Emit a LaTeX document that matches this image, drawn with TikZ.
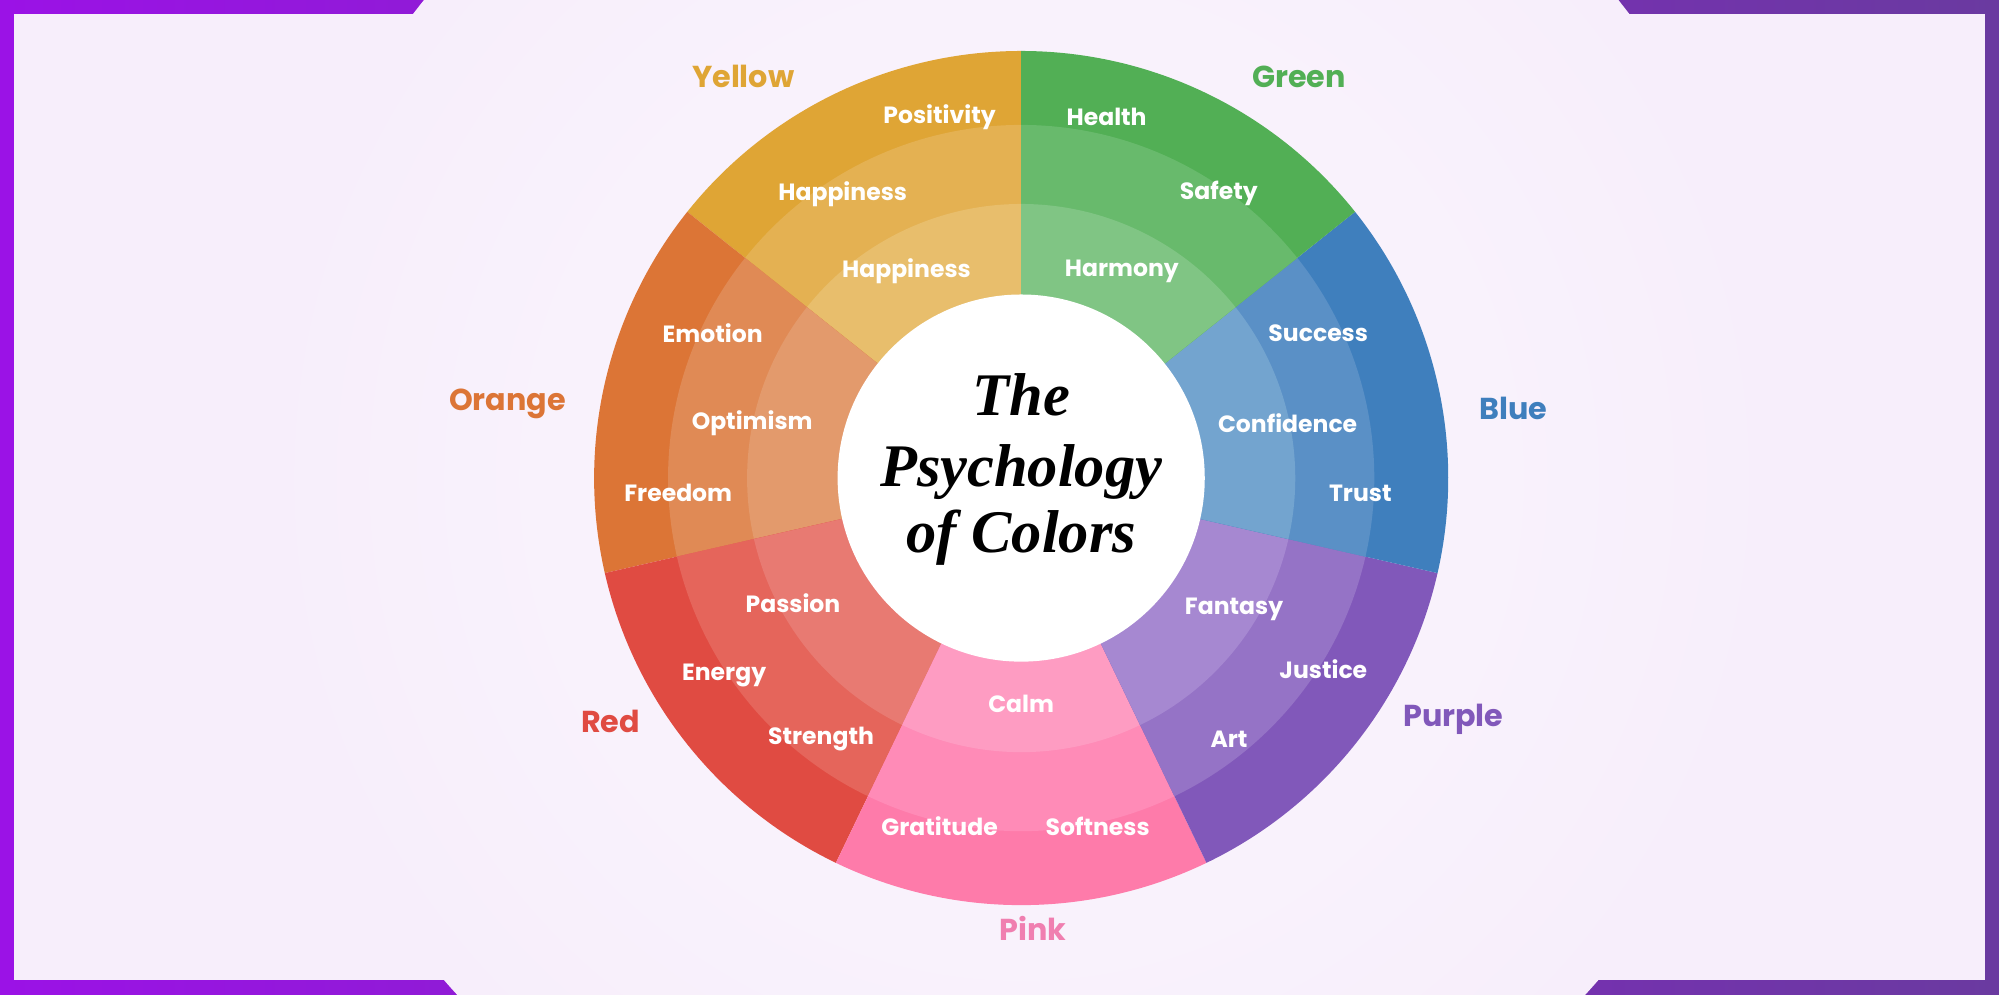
\documentclass[tikz,border=0pt]{standalone}
\usepackage{fontspec}
\setmainfont{Poppins}
\newfontfamily\titlefont{Liberation Serif}
\definecolor{bgc}{HTML}{F7EEFB}
\definecolor{bdl}{HTML}{9B12E6}
\definecolor{bdr}{HTML}{6A3AA0}
\definecolor{yA}{HTML}{DFA535}\definecolor{yB}{HTML}{E4B152}\definecolor{yC}{HTML}{E8BE6C}
\definecolor{gA}{HTML}{52AF55}\definecolor{gB}{HTML}{68BA6C}\definecolor{gC}{HTML}{80C584}
\definecolor{bA}{HTML}{3F7FBD}\definecolor{bB}{HTML}{5A90C6}\definecolor{bC}{HTML}{73A4CF}
\definecolor{pA}{HTML}{8158BA}\definecolor{pB}{HTML}{9573C6}\definecolor{pC}{HTML}{A688D1}
\definecolor{kA}{HTML}{FE7BAA}\definecolor{kB}{HTML}{FF8BB7}\definecolor{kC}{HTML}{FE9CC2}
\definecolor{rA}{HTML}{E04B42}\definecolor{rB}{HTML}{E5655B}\definecolor{rC}{HTML}{E87A72}
\definecolor{oA}{HTML}{DC7536}\definecolor{oB}{HTML}{E08A55}\definecolor{oC}{HTML}{E39A6C}
\definecolor{pinkl}{HTML}{F07FB0}
\begin{document}
\begin{tikzpicture}[x=0.02cm,y=0.02cm,
  inlab/.style={text=white,font=\fontsize{10.5}{12}\selectfont\bfseries},
  outlab/.style={font=\fontsize{13.5}{15}\selectfont\bfseries},
  ttl/.style={font=\titlefont\fontsize{27}{30}\selectfont\bfseries\itshape}]
\useasboundingbox (0,0) rectangle (1568,780);
\shade[left color=bdl,right color=bdr] (0,0) rectangle (1568,780);
\fill[bgc] (11,11) rectangle (1557,769);
\shade[inner color=white!60!bgc,outer color=bgc] (801,405) circle[radius=600];
\coordinate (c) at (801,405);
\foreach \s/\ca/\cb/\cc in {0/yA/yB/yC,1/oA/oB/oC,2/rA/rB/rC,3/kA/kB/kC,4/pA/pB/pC,5/bA/bB/bC,6/gA/gB/gC}{
  \pgfmathsetmacro\aa{90+\s*360/7}
  \pgfmathsetmacro\ab{90+(\s+1)*360/7}
  \fill[\ca] (c) -- ++(\aa:335) arc[start angle=\aa,end angle=\ab,radius=335] -- cycle;
  \fill[\cb] (c) -- ++(\aa:277) arc[start angle=\aa,end angle=\ab,radius=277] -- cycle;
  \fill[\cc] (c) -- ++(\aa:215) arc[start angle=\aa,end angle=\ab,radius=215] -- cycle;
}
\fill[white] (c) circle[radius=144];
\node[ttl] (t1) at (801,470) {The};
\node[ttl] (t2) at (801,410) {Psychology};
\node[ttl] (t3) at (801,358) {of Colors};
\node[outlab,text=yA] (lY) at (583,720) {Yellow};
\node[outlab,text=gA] (lG) at (1019,720) {Green};
\node[outlab,text=bA] (lB) at (1187,460) {Blue};
\node[outlab,text=pA] (lP) at (1140,216) {Purple};
\node[outlab,text=pinkl] (lK) at (810,52) {Pink};
\node[outlab,text=rA] (lR) at (479,214) {Red};
\node[outlab,text=oA] (lO) at (398,463) {Orange};
\node[inlab] (n1) at (737,688) {Positivity};
\node[inlab] (n2) at (868,688) {Health};
\node[inlab] (n3) at (661,628) {Happiness};
\node[inlab] (n4) at (956,628) {Safety};
\node[inlab] (n5) at (711,567) {Happiness};
\node[inlab] (n6) at (880,567) {Harmony};
\node[inlab] (n7) at (559,519) {Emotion};
\node[inlab] (n8) at (1034,519) {Success};
\node[inlab] (n9) at (590,448) {Optimism};
\node[inlab] (n10) at (1010,448) {Confidence};
\node[inlab] (n11) at (532,393) {Freedom};
\node[inlab] (n12) at (1067,393) {Trust};
\node[inlab] (n13) at (622,307) {Passion};
\node[inlab] (n14) at (968,302) {Fantasy};
\node[inlab] (n15) at (568,250) {Energy};
\node[inlab] (n16) at (1038,255) {Justice};
\node[inlab] (n17) at (644,200) {Strength};
\node[inlab] (n18) at (964,200) {Art};
\node[inlab] (n19) at (801,228) {Calm};
\node[inlab] (n20) at (737,132) {Gratitude};
\node[inlab] (n21) at (861,132) {Softness};
\end{tikzpicture}
\end{document}
